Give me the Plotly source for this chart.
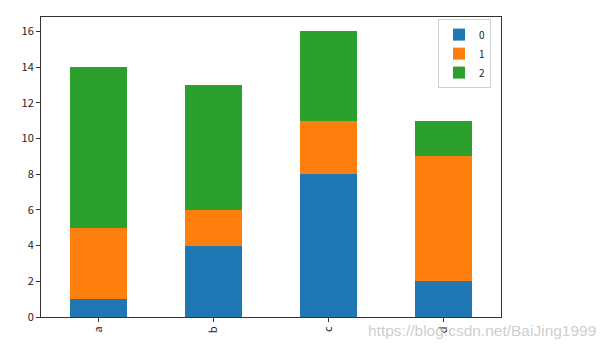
import plotly.graph_objects as go

categories = ["a", "b", "c", "d"]
series_names = ["0", "1", "2"]
s0 = [1, 4, 8, 2]
s1 = [4, 2, 3, 7]
s2 = [9, 7, 5, 2]
colors = ["#1f77b4", "#ff7f0e", "#2ca02c"]
y_ticks = [0, 2, 4, 6, 8, 10, 12, 14, 16]

font = "Noto Sans CJK SC, DejaVu Sans, sans-serif"

fig = go.Figure()
for name, vals, c in zip(series_names, [s0, s1, s2], colors):
    fig.add_trace(go.Bar(x=categories, y=vals, name=name, marker_color=c,
                         marker_line_width=0, width=0.5))

fig.update_layout(
    barmode="stack",
    width=604, height=350,
    margin=dict(l=41, r=103, t=17, b=33),
    plot_bgcolor="white", paper_bgcolor="white",
    font=dict(family=font, size=11, color="#222"),
    legend=dict(x=0.863, y=0.993, xanchor="left", yanchor="top",
                traceorder="normal", bordercolor="#d0d0d0", borderwidth=1,
                bgcolor="rgba(255,255,255,0.8)", font=dict(size=10),
                tracegroupgap=0),
    xaxis=dict(range=[-0.5, 3.5], showline=True, linecolor="#333", linewidth=1,
               mirror=True, ticks="outside", ticklen=4, tickcolor="#333",
               tickangle=-90, showgrid=False),
    yaxis=dict(range=[0, 16.8], tickvals=y_ticks, showline=True, linecolor="#333",
               linewidth=1, mirror=True, ticks="outside", ticklen=4,
               tickcolor="#333", showgrid=False, zeroline=False),
    annotations=[dict(text="https://blog.csdn.net/BaiJing1999", xref="paper", yref="paper",
                      x=1.21, y=-0.045, xanchor="right", yanchor="middle", showarrow=False,
                      font=dict(family="Liberation Sans, Arial, sans-serif", size=15.5,
                                color="rgba(200,200,200,0.9)"))],
)

fig.write_html("out.html")
